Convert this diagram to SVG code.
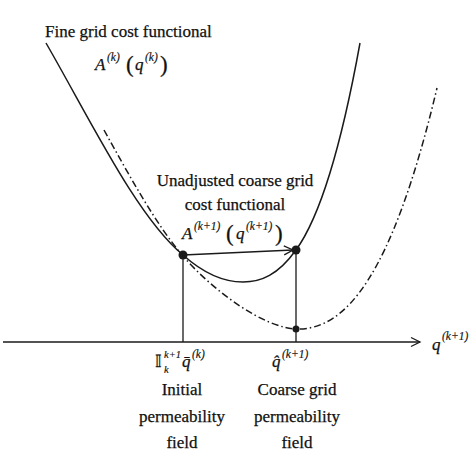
<svg xmlns="http://www.w3.org/2000/svg" width="474" height="474" viewBox="0 0 474 474">
<defs>
<style>
.t{font-family:"Liberation Serif","Times New Roman",serif;font-size:17px;fill:#111;stroke:#111;stroke-width:0.25}
.i{font-style:italic}
.s{font-size:11.5px;stroke-width:0.15}
.ss{font-size:10.5px;stroke-width:0.15}
.p{font-size:23px}
.c{stroke:#1a1a1a;stroke-width:1.5;fill:none}
.l{stroke:#1a1a1a;stroke-width:1.3;fill:none}
.dd{stroke-dasharray:7 3 1.5 3}
.d{fill:#1a1a1a}
</style>
<marker id="ah" markerWidth="12" markerHeight="12" refX="10" refY="6" orient="auto" markerUnits="userSpaceOnUse">
<path d="M1,1.5 L10,6 L1,10.5" fill="none" stroke="#1a1a1a" stroke-width="1.3"/>
</marker>
</defs>
<rect width="474" height="474" fill="#fff"/>
<g id="curves">
<path id="fine" class="c" d="M46,43 C91,121 137,217 183,255 C202,272 223,282 243,282 C261,282 278,275 296,250 C317,221 339,159 360,43"/>
<path id="coarse" class="c dd" d="M104,130 C130,177 157,226 183,256 C213,291 265,329 298,329 C344,329 391,281 437,88"/>
</g>
<g id="connectors">
<line class="l" x1="3" y1="342" x2="420" y2="342" marker-end="url(#ah)"/>
<line class="l" x1="183" y1="255" x2="183" y2="342"/>
<line class="l" x1="296" y1="250" x2="296" y2="342"/>
<line class="l" x1="183" y1="255" x2="293" y2="250" marker-end="url(#ah)"/>
</g>
<g id="points">
<circle class="d" cx="183" cy="255" r="4.5"/>
<circle class="d" cx="296" cy="250" r="4.5"/>
<circle class="d" cx="296" cy="329" r="3.5"/>
</g>
<g id="label-fine">
<text class="t" x="45" y="37">Fine grid cost functional</text>
<text class="t i" x="95" y="70">A</text>
<text class="t i s" x="107" y="61">(k)</text>
<text class="t p" x="126" y="72">(</text>
<text class="t i" x="135" y="70">q</text>
<text class="t i s" x="145" y="61">(k)</text>
<text class="t p" x="160" y="72">)</text>
</g>
<g id="label-coarse">
<text class="t" x="235" y="186" text-anchor="middle">Unadjusted coarse grid</text>
<text class="t" x="235" y="210" text-anchor="middle">cost functional</text>
<text class="t i" x="182" y="239">A</text>
<text class="t i s" x="194" y="230">(k+1)</text>
<text class="t p" x="226" y="241">(</text>
<text class="t i" x="236" y="239">q</text>
<text class="t i s" x="246" y="230">(k+1)</text>
<text class="t p" x="275" y="241">)</text>
</g>
<g id="label-initial">
<text class="t" x="155" y="367" font-family="DejaVu Serif">𝕀</text>
<text class="t i ss" x="164" y="358">k+1</text>
<text class="t i ss" x="164" y="373">k</text>
<text class="t i" x="182" y="367">q̄</text>
<text class="t i s" x="192" y="358">(k)</text>
<text class="t" x="182" y="395" text-anchor="middle">Initial</text>
<text class="t" x="182" y="422" text-anchor="middle">permeability</text>
<text class="t" x="182" y="448" text-anchor="middle">field</text>
</g>
<g id="label-coarse-field">
<text class="t i" x="272" y="367">q̂</text>
<text class="t i s" x="282" y="358">(k+1)</text>
<text class="t" x="297" y="395" text-anchor="middle">Coarse grid</text>
<text class="t" x="297" y="422" text-anchor="middle">permeability</text>
<text class="t" x="297" y="448" text-anchor="middle">field</text>
</g>
<g id="label-axis">
<text class="t i" x="432" y="350">q</text>
<text class="t i s" x="442" y="340">(k+1)</text>
</g>
</svg>
